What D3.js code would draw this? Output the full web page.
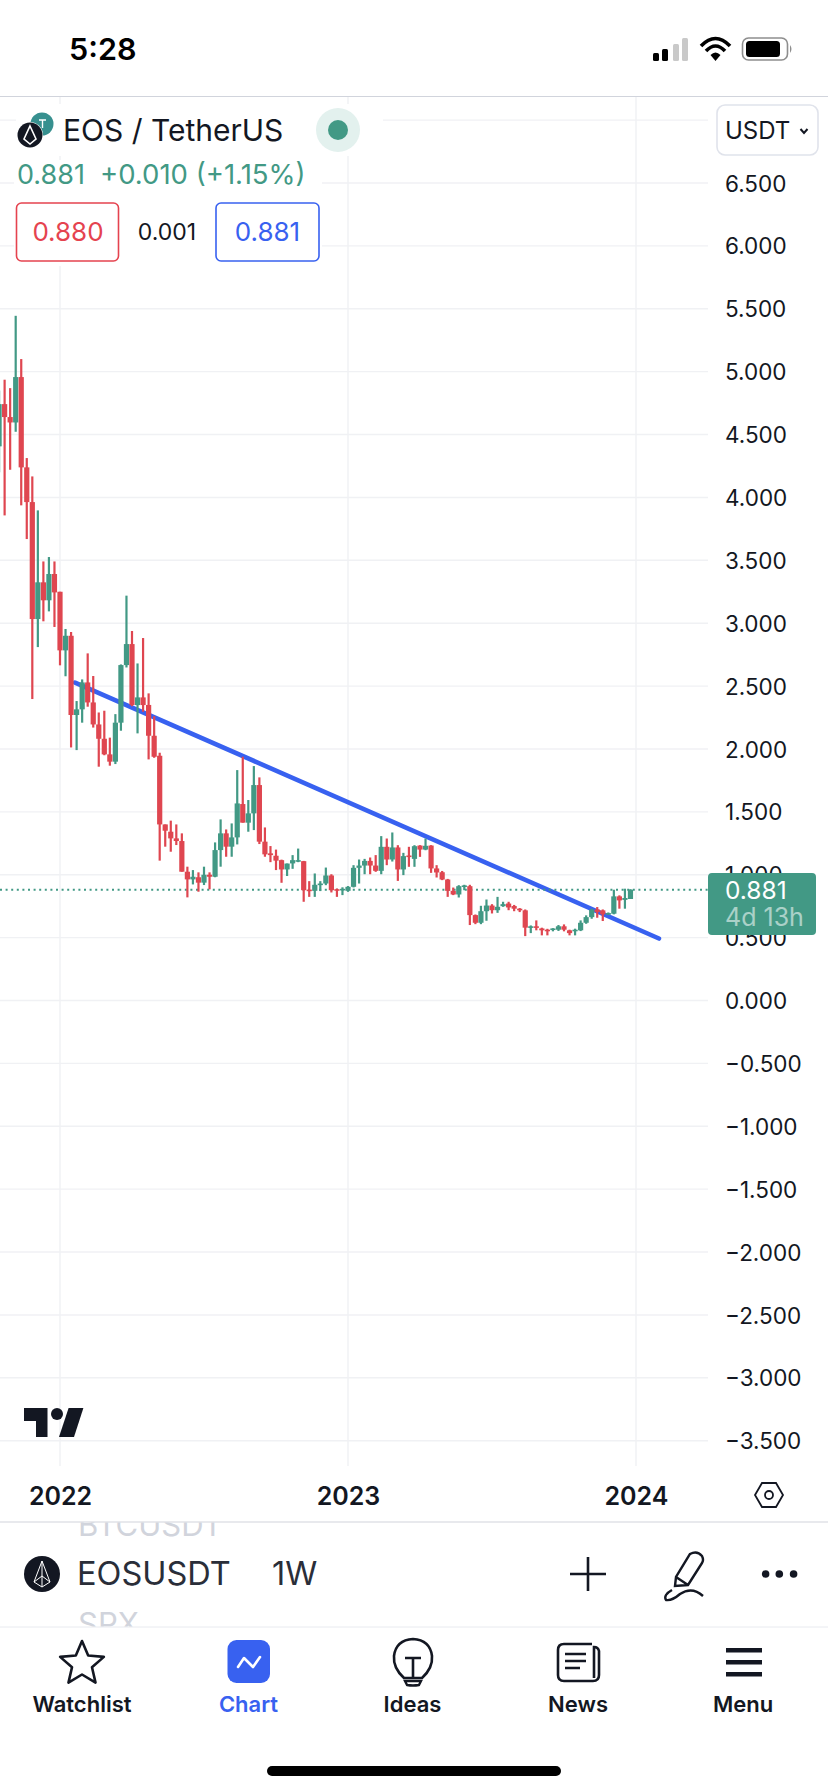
<!DOCTYPE html>
<html>
<head>
<meta charset="utf-8">
<script src="https://d3js.org/d3.v7.min.js"></script>
<style>
html, body { margin: 0; padding: 0; background: #fff; }
svg { display: block; }
text { font-family: Inter, Roboto, sans-serif; }
</style>
</head>
<body>
<div id="my_dataviz"></div>
<script>
// weekly candles, first candle is the week of 2021-10-18
const firstWeek = new Date(Date.UTC(2021, 9, 18));
const opens = [4.406,4.742,4.639,4.596,4.957,4.239,3.963,3.033,3.325,3.182,3.391,
  3.25,2.784,2.90,2.27,2.315,2.529,2.37,2.195,2.081,1.957,
  1.899,2.209,2.667,2.834,2.349,2.41,2.35,2.105,1.946,1.40,
  1.342,1.289,1.268,1.024,.963,.98,.937,1.0,.984,1.196,
  1.329,1.223,1.297,1.562,1.414,1.488,1.713,1.263,1.17,1.151,
  1.116,1.042,1.09,1.108,1.108,.882,.872,.92,.93,.994,
  .885,.877,.872,.904,1.055,1.073,1.11,1.073,1.031,1.222,
  1.121,1.217,1.042,1.153,1.126,1.232,1.2,1.232,1.05,1.02,
  .962,.872,.843,.904,.909,.679,.618,.71,.755,.718,
  .75,.771,.751,.73,.717,.579,.59,.573,.563,.563,
  .563,.59,.558,.552,.558,.618,.663,.724,.717,.685,
  .69,.828,.80,.807];
const highs = [4.85,4.936,4.869,5.444,5.10,4.313,4.167,3.897,3.491,3.526,3.491,
  3.25,2.954,2.93,2.381,2.553,2.76,2.58,2.29,2.304,2.09,
  2.277,2.672,3.219,2.938,2.68,2.882,2.442,2.26,1.97,1.40,
  1.43,1.40,1.329,1.064,1.037,1.019,1.064,1.019,1.257,1.44,
  1.36,1.408,1.832,1.938,1.594,1.864,1.774,1.376,1.228,1.20,
  1.12,1.089,1.156,1.208,1.11,.949,1.01,.949,1.057,1.004,
  .89,.90,.91,1.076,1.121,1.126,1.137,1.156,1.307,1.288,
  1.336,1.235,1.174,1.222,1.235,1.235,1.288,1.235,1.076,1.03,
  .967,.898,.917,.92,.92,.684,.753,.803,.766,.824,
  .785,.785,.76,.735,.724,.597,.637,.579,.57,.575,
  .60,.605,.563,.571,.637,.677,.73,.743,.724,.70,
  .881,.836,.889,.885];
const lows = [4.2,3.857,4.22,4.522,3.937,3.669,2.397,2.81,3.015,3.094,2.97,
  2.665,2.578,2.012,1.991,2.209,2.336,2.17,1.859,1.95,1.867,
  1.88,2.145,2.648,2.34,2.124,2.296,1.917,1.93,1.112,1.223,
  1.183,1.236,1.024,.82,.923,.865,.918,.884,.98,1.064,
  1.143,1.143,1.241,1.414,1.342,1.355,1.244,1.143,1.10,1.037,
  .936,.99,1.047,1.10,.785,.824,.824,.87,.917,.859,
  .824,.838,.864,.899,.93,1.004,1.004,1.023,1.004,1.076,
  1.105,.951,.997,1.063,1.063,1.142,1.195,1.015,.978,.957,
  .824,.838,.819,.877,.6,.607,.607,.634,.692,.697,
  .745,.718,.71,.703,.512,.536,.558,.518,.518,.55,
  .553,.55,.518,.518,.552,.61,.65,.658,.632,.68,
  .685,.73,.73,.81];
const closes = [4.742,4.639,4.596,4.957,4.239,3.963,3.033,3.325,3.182,3.391,3.245,
  2.784,2.90,2.27,2.315,2.529,2.37,2.195,2.081,1.957,1.899,
  2.209,2.667,2.834,2.349,2.41,2.349,2.105,1.938,1.40,1.35,
  1.289,1.268,1.024,.963,.984,.937,1.0,.984,1.196,1.329,
  1.223,1.297,1.567,1.414,1.488,1.713,1.263,1.162,1.156,1.112,
  1.042,1.089,1.116,1.116,.877,.872,.92,.93,.994,.877,
  .877,.888,.904,1.055,1.073,1.11,1.073,1.031,1.222,1.121,
  1.217,1.042,1.148,1.148,1.227,1.2,1.23,1.05,1.018,.962,
  .872,.843,.909,.915,.679,.618,.71,.755,.718,.745,
  .766,.74,.73,.717,.579,.59,.579,.558,.552,.573,
  .59,.563,.536,.563,.618,.663,.722,.703,.685,.695,
  .828,.796,.815,.881];

const gridPrices = [7,6.5,6,5.5,5,4.5,4,3.5,3,2.5,2,1.5,1,0.5,0,-0.5,-1,-1.5,-2,-2.5,-3,-3.5];
const priceLabels = [6.5,6,5.5,5,4.5,4,3.5,3,2.5,2,1.5,1,0.5,0,-0.5,-1,-1.5,-2,-2.5,-3,-3.5];
const yearStarts = [new Date(Date.UTC(2022,0,3)), new Date(Date.UTC(2023,0,2)), new Date(Date.UTC(2024,0,1))];

const trendDates = [new Date(Date.UTC(2022,0,22)), new Date(Date.UTC(2024,0,30))];
const trendValues = [2.528, 0.493];
const lastPrice = 0.881;

const navLabels = ["Watchlist","Chart","Ideas","News","Menu"];
const navCenters = [82,248.5,412.5,578,743];

const green = "#429985", red = "#df4650", blue = "#3861f0", ink = "#131722", gridColour = "#f0f1f4";

const svg = d3.select("#my_dataviz").append("svg")
    .attr("width", 828)
    .attr("height", 1792);

const x = d3.scaleUtc().domain([yearStarts[0], yearStarts[2]]).range([60, 636]);
const y = d3.scaleLinear().domain([-3.5, 6.5]).range([1440.7, 183]);

const candles = opens.map((o, i) => ({
    week: d3.utcWeek.offset(firstWeek, i), open: o, high: highs[i], low: lows[i], close: closes[i]
}));

//grid
svg.append("g").selectAll("line").data(yearStarts).enter().append("line")
    .attr("x1", d => x(d)).attr("x2", d => x(d))
    .attr("y1", 96).attr("y2", 1466)
    .attr("stroke", gridColour).attr("stroke-width", 1.4);
svg.append("g").selectAll("line").data(gridPrices).enter().append("line")
    .attr("x1", 0).attr("x2", 708)
    .attr("y1", d => y(d)).attr("y2", d => y(d))
    .attr("stroke", gridColour).attr("stroke-width", 1.4);

//trend line
svg.append("line")
    .attr("x1", x(trendDates[0])).attr("y1", y(trendValues[0]))
    .attr("x2", x(trendDates[1])).attr("y2", y(trendValues[1]))
    .attr("stroke", blue).attr("stroke-width", 4.6).attr("stroke-linecap", "round");

//last price line
svg.append("line")
    .attr("x1", 0).attr("x2", 708)
    .attr("y1", y(lastPrice)).attr("y2", y(lastPrice))
    .attr("stroke", green).attr("stroke-width", 2).attr("stroke-dasharray", "2 3.6");

//candles
const candle = svg.append("g").selectAll("g").data(candles).enter().append("g")
    .attr("fill", d => d.close >= d.open ? green : red);
candle.append("rect")
    .attr("x", d => x(d.week) - 1.1).attr("width", 2.2)
    .attr("y", d => y(d.high)).attr("height", d => y(d.low) - y(d.high));
candle.append("rect")
    .attr("x", d => x(d.week) - 2.6).attr("width", 5.2)
    .attr("y", d => y(Math.max(d.open, d.close)))
    .attr("height", d => Math.max(1.6, Math.abs(y(d.open) - y(d.close))));

//price axis
const yAxis = svg.append("g")
    .attr("transform", "translate(725,0)")
    .call(d3.axisRight(y).tickValues(priceLabels).tickSize(0).tickPadding(0)
        .tickFormat(d => d3.format(".3f")(d)));
yAxis.select(".domain").remove();
yAxis.selectAll("text")
    .attr("font-family", "Inter").attr("font-size", 22.5).attr("fill", ink)
    .attr("dy", "0.36em");

//time axis
const xAxis = svg.append("g")
    .attr("transform", "translate(0,1496)")
    .call(d3.axisBottom(x).tickValues(yearStarts).tickSize(0).tickPadding(0)
        .tickFormat(d3.utcFormat("%Y")));
xAxis.select(".domain").remove();
xAxis.selectAll("text")
    .attr("y", 0).attr("dy", "0.36em")
    .attr("font-family", "Inter").attr("font-size", 25).attr("font-weight", 600).attr("fill", ink);

//price badge
svg.append("rect").attr("x", 708).attr("y", 873).attr("width", 108).attr("height", 62).attr("rx", 4).attr("fill", green);
svg.append("text").text("0.881").attr("x", 725).attr("y", 899).attr("font-size", 24.5).attr("fill", "#fff");
svg.append("text").text("4d 13h").attr("x", 725).attr("y", 926).attr("font-size", 25).attr("fill", "#fff").attr("opacity", 0.55);

//legend backgrounds
svg.append("rect").attr("x", 16).attr("y", 104).attr("width", 367).attr("height", 52).attr("fill", "#fff");
svg.append("rect").attr("x", 14).attr("y", 160).attr("width", 308).attr("height", 106).attr("fill", "#fff");

//legend title
svg.append("circle").attr("cx", 42).attr("cy", 124).attr("r", 11.5).attr("fill", "#37908f");
svg.append("path").attr("d", "M39 120 H46 M42.5 120 V128").attr("stroke", "#fff").attr("stroke-width", 1.4).attr("fill", "none");
svg.append("circle").attr("cx", 30).attr("cy", 135).attr("r", 13).attr("fill", "#fff");
svg.append("circle").attr("cx", 30).attr("cy", 135).attr("r", 12.5).attr("fill", ink);
svg.append("path").attr("d", "M30 126 L36 139 L30 144 L24 139 Z").attr("fill", "none").attr("stroke", "#fff").attr("stroke-width", 1.6);
svg.append("text").text("EOS / TetherUS").attr("x", 63).attr("y", 141).attr("font-size", 30).attr("fill", ink);
svg.append("circle").attr("cx", 338).attr("cy", 130).attr("r", 22).attr("fill", "#e3f1ee");
svg.append("circle").attr("cx", 338).attr("cy", 130).attr("r", 10).attr("fill", green);

//legend values
svg.append("text").text("0.881").attr("x", 17).attr("y", 184).attr("font-size", 27).attr("fill", green);
svg.append("text").text("+0.010 (+1.15%)").attr("x", 100).attr("y", 184).attr("font-size", 27.5).attr("fill", green);
svg.append("rect").attr("x", 16.5).attr("y", 203).attr("width", 102).attr("height", 58).attr("rx", 5).attr("fill", "#fff").attr("stroke", "#e5434f").attr("stroke-width", 1.6);
svg.append("text").text("0.880").attr("x", 68).attr("y", 241).attr("text-anchor", "middle").attr("font-size", 26).attr("fill", "#e5434f");
svg.append("text").text("0.001").attr("x", 167).attr("y", 240).attr("text-anchor", "middle").attr("font-size", 23).attr("fill", ink);
svg.append("rect").attr("x", 216).attr("y", 203).attr("width", 103).attr("height", 58).attr("rx", 5).attr("fill", "#fff").attr("stroke", blue).attr("stroke-width", 1.6);
svg.append("text").text("0.881").attr("x", 267.5).attr("y", 241).attr("text-anchor", "middle").attr("font-size", 26).attr("fill", blue);

//currency button
svg.append("rect").attr("x", 717).attr("y", 105).attr("width", 101).attr("height", 50).attr("rx", 8).attr("fill", "#fff").attr("stroke", "#e0e3eb").attr("stroke-width", 1.6);
svg.append("text").text("USDT").attr("x", 725).attr("y", 138.5).attr("font-size", 24).attr("fill", ink);
svg.append("path").attr("d", "M800.5 129 L804 133 L807.5 129").attr("fill", "none").attr("stroke", ink).attr("stroke-width", 2);

//tv logo
svg.append("path").attr("d", "M24 1408 H47.5 V1437 H36 V1421 H24 Z").attr("fill", ink);
svg.append("circle").attr("cx", 57).attr("cy", 1414).attr("r", 6).attr("fill", ink);
svg.append("path").attr("d", "M68.6 1408 H83.4 L74 1437 H59 Z").attr("fill", ink);

//settings hexagon
svg.append("path").attr("d", "M762 1483 H776 L783 1495 L776 1507 H762 L755 1495 Z").attr("fill", "none").attr("stroke", ink).attr("stroke-width", 1.8);
svg.append("circle").attr("cx", 769).attr("cy", 1495).attr("r", 4).attr("fill", "none").attr("stroke", ink).attr("stroke-width", 1.8);

//status bar
svg.append("text").text("5:28").attr("x", 69).attr("y", 60).attr("font-size", 30.5).attr("font-weight", 600).attr("fill", "#000");
[[653,53,6,8,"#000"],[662,49,6,12,"#000"],[673,44,6,17,"#c9c9c9"],[682,38,6,23,"#c9c9c9"]].forEach(b => {
    svg.append("rect").attr("x", b[0]).attr("y", b[1]).attr("width", b[2]).attr("height", b[3]).attr("rx", 1.5).attr("fill", b[4]);
});
svg.append("path").attr("d", "M701 46 Q715.5 31 730 46").attr("fill", "none").attr("stroke", "#000").attr("stroke-width", 3.6);
svg.append("path").attr("d", "M706 51 Q715.5 41 725 51").attr("fill", "none").attr("stroke", "#000").attr("stroke-width", 3.6);
svg.append("path").attr("d", "M710.5 55 Q715.5 50 720.5 55 L715.5 61 Z").attr("fill", "#000");
svg.append("rect").attr("x", 742.5).attr("y", 38).attr("width", 45).attr("height", 22).attr("rx", 6).attr("fill", "none").attr("stroke", "#8e8e8e").attr("stroke-width", 1.6);
svg.append("rect").attr("x", 746).attr("y", 41).attr("width", 34).attr("height", 16).attr("rx", 3.5).attr("fill", "#000");
svg.append("path").attr("d", "M790 45 Q793 49 790 53 Z").attr("fill", "#8e8e8e");

//separators
svg.append("line").attr("x1", 0).attr("x2", 828).attr("y1", 96.5).attr("y2", 96.5).attr("stroke", "#d1d4dc").attr("stroke-width", 1.2);
svg.append("line").attr("x1", 0).attr("x2", 828).attr("y1", 1522).attr("y2", 1522).attr("stroke", "#d1d4dc").attr("stroke-width", 1.2);
svg.append("line").attr("x1", 0).attr("x2", 828).attr("y1", 1627).attr("y2", 1627).attr("stroke", "#e8eaef").attr("stroke-width", 1);

//symbol picker, the neighbours are cut off
svg.append("clipPath").attr("id", "picker").append("rect").attr("x", 0).attr("y", 1522.6).attr("width", 828).attr("height", 104);
const picker = svg.append("g").attr("clip-path", "url(#picker)");
picker.append("text").text("BTCUSDT").attr("x", 78).attr("y", 1536).attr("font-size", 31).attr("fill", "#d1d4dc");
picker.append("text").text("SPX").attr("x", 78).attr("y", 1635).attr("font-size", 31).attr("fill", "#d1d4dc");

svg.append("circle").attr("cx", 42).attr("cy", 1574).attr("r", 18).attr("fill", ink);
svg.append("path").attr("d", "M42 1561 L50 1582 L42 1587 L34 1582 Z M42 1561 V1587 M34 1582 L42 1576 L50 1582").attr("fill", "none").attr("stroke", "#fff").attr("stroke-width", 1);
svg.append("text").text("EOSUSDT").attr("x", 77).attr("y", 1585).attr("font-size", 32.5).attr("fill", "#2a2e39");
svg.append("text").text("1W").attr("x", 272).attr("y", 1585).attr("font-size", 32.5).attr("fill", "#2a2e39");

svg.append("path").attr("d", "M588 1557 V1591 M570 1574 H606").attr("stroke", ink).attr("stroke-width", 2.6).attr("fill", "none");
svg.append("path").attr("d", "M690 1554 Q697 1550 702 1556 Q704 1560 702 1563 L688 1585 L675 1586 L676 1577 Z M676 1577 L688 1585")
    .attr("fill", "none").attr("stroke", ink).attr("stroke-width", 2.4);
svg.append("path").attr("d", "M672 1590 Q663 1595 666 1600 Q672 1601 680 1594 Q692 1586 703 1596")
    .attr("fill", "none").attr("stroke", ink).attr("stroke-width", 2.4);
svg.append("g").selectAll("circle").data([765.6,779.3,793.6]).enter().append("circle")
    .attr("cx", d => d).attr("cy", 1574).attr("r", 3.8).attr("fill", ink);

//nav bar
svg.append("g").selectAll("text").data(navLabels).enter().append("text")
    .text(d => d)
    .attr("x", (d, i) => navCenters[i]).attr("y", 1712)
    .attr("text-anchor", "middle").attr("font-size", 22).attr("font-weight", 600)
    .attr("fill", d => d == "Chart" ? blue : ink);

svg.append("path").attr("d", d3.lineRadial().curve(d3.curveLinearClosed)
        .angle((d, i) => i * Math.PI / 5)
        .radius((d, i) => i % 2 ? 10.5 : 23)(d3.range(10)))
    .attr("transform", "translate(82,1664)")
    .attr("fill", "none").attr("stroke", ink).attr("stroke-width", 2.6).attr("stroke-linejoin", "round");

svg.append("rect").attr("x", 227.5).attr("y", 1640).attr("width", 42.5).attr("height", 43).attr("rx", 9).attr("fill", blue);
svg.append("path").attr("d", "M238 1667 L244 1658 L253 1667 L260 1657").attr("fill", "none").attr("stroke", "#fff").attr("stroke-width", 2.6).attr("stroke-linecap", "round").attr("stroke-linejoin", "round");

svg.append("path").attr("d", "M404 1678 Q393 1668 394 1656 Q396 1640 413 1639 Q430 1640 432 1656 Q433 1668 422 1678 Z")
    .attr("fill", "none").attr("stroke", ink).attr("stroke-width", 2.6);
svg.append("path").attr("d", "M405 1658 H421 M413 1658 V1677").attr("stroke", ink).attr("stroke-width", 2.6).attr("fill", "none");
svg.append("path").attr("d", "M405 1681 H421 L419 1685 Q413 1686 407 1685 Z").attr("stroke", ink).attr("stroke-width", 2.4).attr("fill", "none");

svg.append("path").attr("d", "M592 1644 H564 Q558 1644 558 1650 V1675 Q558 1681 564 1681 H593 Q599 1681 599 1675 V1651 Q598 1647 594 1647 V1678")
    .attr("fill", "none").attr("stroke", ink).attr("stroke-width", 2.6);
svg.append("path").attr("d", "M565 1654 H586 M565 1661 H586 M565 1668 H580").attr("stroke", ink).attr("stroke-width", 2.6).attr("fill", "none");

svg.append("g").selectAll("rect").data([1648,1660,1672]).enter().append("rect")
    .attr("x", 726).attr("y", d => d).attr("width", 36).attr("height", 4.5).attr("fill", ink);

//home indicator
svg.append("rect").attr("x", 267).attr("y", 1766).attr("width", 294).attr("height", 10).attr("rx", 5).attr("fill", "#000");
</script>
</body>
</html>
